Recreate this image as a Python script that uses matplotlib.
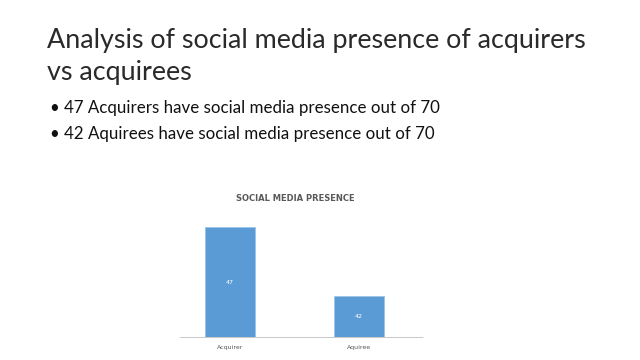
import matplotlib
matplotlib.use("Agg")
import matplotlib.pyplot as plt

categories = ["Acquirer", "Aquiree"]
values = [47, 42]
title_lines = ["Analysis of social media presence of acquirers", "vs acquirees"]
bullets = ["47 Acquirers have social media presence out of 70",
           "42 Aquirees have social media presence out of 70"]
chart_title = "SOCIAL MEDIA PRESENCE"

W, H = 640, 360
fig = plt.figure(figsize=(6.4, 3.6), dpi=100)
fig.patch.set_facecolor("white")

def fx(px):
    return px / W

def fy(py):
    return 1 - py / H

for i, line in enumerate(title_lines):
    fig.text(fx(47), fy(48 + 32 * i), line, ha="left", va="baseline", fontsize=19.4,
             family="Lato", fontweight="normal", color="#2a2a2a")
for i, b in enumerate(bullets):
    fig.text(fx(50), fy(113 + 26 * i), "\u2022 " + b, ha="left", va="baseline",
             fontsize=12.2, family="Lato", color="#111111")

ax = fig.add_axes([fx(180), fy(337), fx(423) - fx(180), (337 - 200) / H])
x = list(range(len(categories)))
bars = ax.bar(x, values, width=0.39, color="#5B9BD5", edgecolor="#9DC3E6", linewidth=0.6)
ax.set_ylim(39, 49)
ax.set_xlim(-0.39, 1.5)
for s in ["top", "right", "left"]:
    ax.spines[s].set_visible(False)
ax.spines["bottom"].set_color("#BFBFBF")
ax.spines["bottom"].set_linestyle((0, (1, 1)))
ax.spines["bottom"].set_linewidth(0.6)
ax.set_yticks([])
ax.set_xticks(x)
ax.set_xticklabels(categories, fontsize=4.5, color="#595959")
ax.tick_params(axis="x", length=0, pad=6)
for xi, v in zip(x, values):
    ax.text(xi, (39 + v) / 2, str(v), ha="center", va="center", fontsize=4.5, color="white")

fig.text(fx(295), fy(198), chart_title, ha="center", va="center", fontsize=6,
         fontweight="bold", color="#595959")

fig.savefig("out.png", dpi=100)
